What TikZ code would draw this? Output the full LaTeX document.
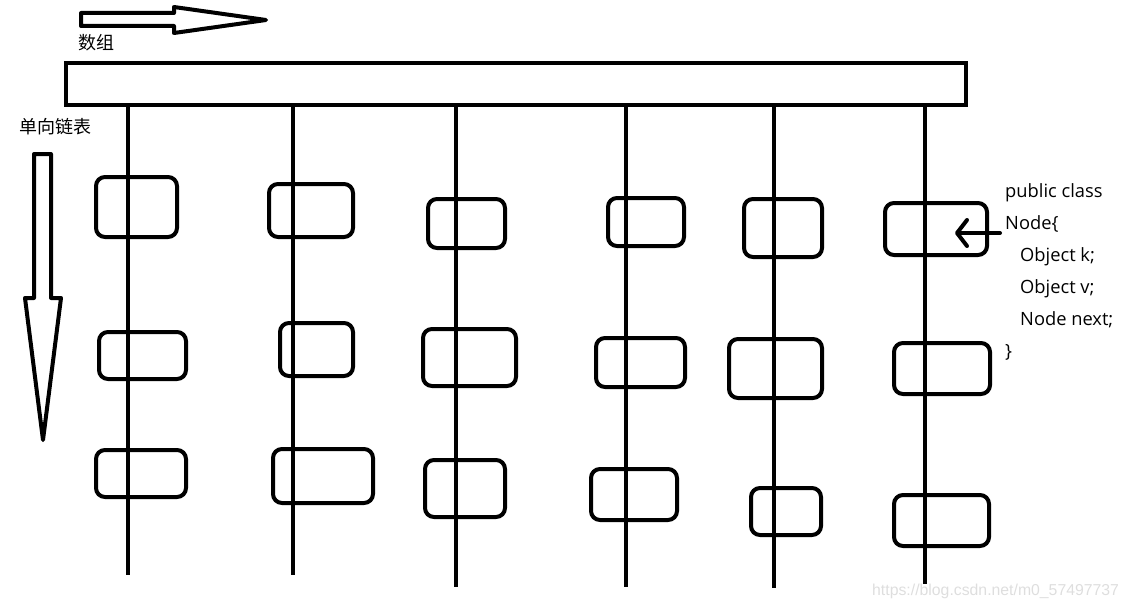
\documentclass[tikz,border=0pt]{standalone}
\usepackage{fontspec}
\setmainfont{Open Sans}
\newfontfamily\cjk{Noto Sans CJK SC}
\newfontfamily\wmfont{Liberation Sans}
\usetikzlibrary{arrows.meta}
\definecolor{wmgray}{RGB}{222,222,222}
\begin{document}
\begin{tikzpicture}[x=1pt,y=-1pt,
  cell/.style={draw, line width=4pt, rounded corners=9pt, inner sep=0pt, rectangle},
  arraybox/.style={draw, line width=4pt, inner sep=0pt, minimum width=900pt, minimum height=42pt},
  bigarrow/.style={draw, line width=4pt, line join=round},
  code/.style={anchor=base west, inner sep=0pt, font=\fontsize{18.3}{20}\selectfont},
  label/.style={inner sep=0pt, font=\cjk\fontsize{18}{20}\selectfont},
  ptrarrow/.style={line width=4pt, line cap=round, -{Straight Barb[length=10pt,width=26pt,line width=4pt, line cap=round, line join=round]}},
  chain/.style={line width=4pt}
]
\useasboundingbox (0,0) rectangle (1129,610);

% array
\node[arraybox] (arr) at (516,84) {};

% top arrow (array direction)
\draw[bigarrow] (81,13) -- (174,13) -- (174,7) -- (266,20) -- (174,33) -- (174,26) -- (81,26) -- cycle;
\node[label] (lblarr) at (96,43) {数组};

% down arrow (linked list direction)
\draw[bigarrow] (34,154) -- (51,154) -- (51,298) -- (61,298) -- (43,440) -- (25,298) -- (34,298) -- cycle;
\node[label] (lblll) at (55,127) {单向链表};

% chain ends
\coordinate (e1) at (128,575);
\coordinate (e2) at (293,575);
\coordinate (e3) at (456,587);
\coordinate (e4) at (626,587);
\coordinate (e5) at (774,588);
\coordinate (e6) at (925,584);

\foreach \i in {1,...,6}{
  \draw[chain] (e\i |- arr.south) -- (e\i);
}

% cells
\node[cell, minimum width=81pt, minimum height=60pt] (a1) at (136.5,207) {};
\node[cell, minimum width=87pt, minimum height=47pt] (a2) at (142.5,355.5) {};
\node[cell, minimum width=90pt, minimum height=47pt] (a3) at (141,473.5) {};

\node[cell, minimum width=84pt, minimum height=53pt] (b1) at (311,210.5) {};
\node[cell, minimum width=73pt, minimum height=53pt] (b2) at (316.5,349.5) {};
\node[cell, minimum width=100pt, minimum height=54pt] (b3) at (323,476) {};

\node[cell, minimum width=77pt, minimum height=49pt] (c1) at (466.5,223.5) {};
\node[cell, minimum width=93pt, minimum height=57pt] (c2) at (469.5,357.5) {};
\node[cell, minimum width=80pt, minimum height=57pt] (c3) at (465,488.5) {};

\node[cell, minimum width=76pt, minimum height=48pt] (d1) at (646,222) {};
\node[cell, minimum width=89pt, minimum height=49pt] (d2) at (640.5,362.5) {};
\node[cell, minimum width=86pt, minimum height=51pt] (d3) at (634,494.5) {};

\node[cell, minimum width=78pt, minimum height=58pt] (f1) at (783,228) {};
\node[cell, minimum width=93pt, minimum height=59pt] (f2) at (775.5,368.5) {};
\node[cell, minimum width=70pt, minimum height=47pt] (f3) at (786,511.5) {};

\node[cell, minimum width=102pt, minimum height=52pt] (g1) at (936,229) {};
\node[cell, minimum width=96pt, minimum height=51pt] (g2) at (942,368.5) {};
\node[cell, minimum width=95pt, minimum height=51pt] (g3) at (941.5,520.5) {};

% code text
\node[code] (k1) at (1005,197) {public class};
\node[code] (k2) at (1005,229) {Node\{};
\node[code] (k3) at (1020,261) {Object k;};
\node[code] (k4) at (1020,293) {Object v;};
\node[code] (k5) at (1020,325) {Node next;};
\node[code] (k6) at (1005,357) {\}};

% pointer arrow
\coordinate (pstart) at (1000,233);
\coordinate (pend) at (955,233);
\draw[ptrarrow] (pstart) -- (pend);

% watermark
\node[anchor=west, inner sep=0pt, text=wmgray, font=\wmfont\fontsize{15.8}{17}\selectfont] (wm) at (872,591) {https://blog.csdn.net/m0\_57497737};
\end{tikzpicture}
\end{document}
